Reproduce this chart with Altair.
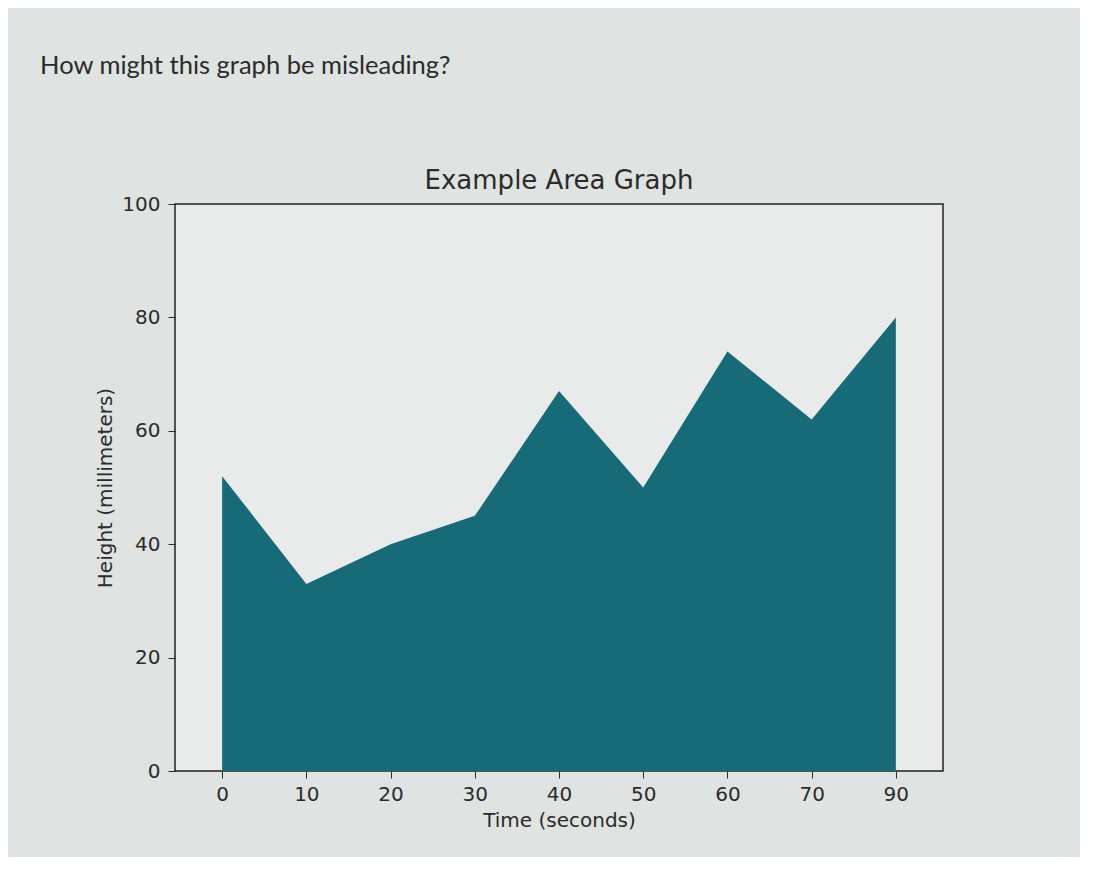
import altair as alt
import pandas as pd

times = ["0", "10", "20", "30", "40", "50", "60", "70", "90"]
heights = [52, 33, 40, 45, 67, 50, 74, 62, 80]

df = pd.DataFrame({"time": times, "height": heights})

TXT = "#2b2b2b"
FONT = "DejaVu Sans"

area = alt.Chart(df).mark_area(color="#176a78", opacity=1).encode(
    x=alt.X(
        "time:O",
        sort=times,
        scale=alt.Scale(type="point", padding=0.56),
        axis=alt.Axis(
            title="Time (seconds)",
            labelAngle=0,
            labelFont=FONT,
            labelFontSize=20,
            labelColor=TXT,
            titleFont=FONT,
            titleFontSize=20,
            titleFontWeight="normal",
            titleColor=TXT,
            tickSize=7,
            tickColor=TXT,
            labelPadding=6,
            titlePadding=6,
            domain=False,
            grid=False,
        ),
    ),
    y=alt.Y(
        "height:Q",
        scale=alt.Scale(domain=[0, 100], nice=False),
        axis=alt.Axis(
            title="Height (millimeters)",
            values=[0, 20, 40, 60, 80, 100],
            labelFont=FONT,
            labelFontSize=20,
            labelColor=TXT,
            titleFont=FONT,
            titleFontSize=20,
            titleFontWeight="normal",
            titleColor=TXT,
            tickSize=7,
            tickColor=TXT,
            labelPadding=8,
            titlePadding=6,
            domain=False,
            grid=False,
        ),
    ),
).properties(
    width=768,
    height=567,
    title=alt.TitleParams(
        "Example Area Graph",
        font=FONT,
        fontSize=26,
        fontWeight="normal",
        color=TXT,
        offset=0,
    ),
)

chart = alt.vconcat(
    area,
    title=alt.TitleParams(
        "How might this graph be misleading?",
        anchor="start",
        font="Lato",
        fontSize=25.5,
        fontWeight="normal",
        color=TXT,
        dx=-55,
        offset=88,
    ),
).properties(
    background="#dfe3e1",
    padding={"left": 32, "top": 45, "right": 136, "bottom": 26},
).configure_view(
    stroke="#222222",
    strokeWidth=1.5,
    fill="#e8ebe9",
)

chart.save("out.html", embed_options={"renderer": "svg", "actions": False})
